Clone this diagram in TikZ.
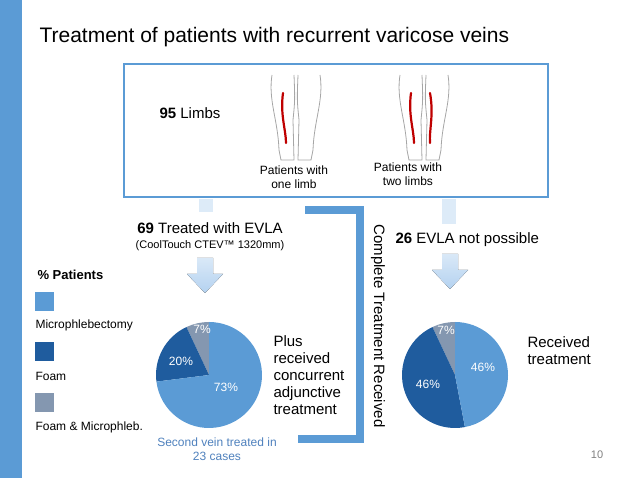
\documentclass[tikz,border=0pt]{standalone}
\usepackage{fontspec}
\setmainfont{Liberation Sans}
\usetikzlibrary{positioning}
\definecolor{lblue}{HTML}{5B9BD5}
\definecolor{dblue}{HTML}{1F5C9E}
\definecolor{grayp}{HTML}{8497B0}
\definecolor{pale}{HTML}{B4D2F0}
\definecolor{capblue}{HTML}{4F81BD}
\tikzset{
  txt/.style={font=\fontsize{15}{17}\selectfont, align=center},
  small/.style={font=\fontsize{12}{14}\selectfont, align=center},
  pct/.style={font=\fontsize{12}{14}\selectfont, text=white},
  legbox/.style={minimum width=19pt, minimum height=19pt, inner sep=0pt, anchor=north west},
  leg/.style={draw=gray!70, line width=0.8pt},
  vein/.style={draw=red!75!black, line width=2.2pt, line cap=round}
}
\newcommand{\downarr}[2]{% x, top y
  \fill[top color=pale!50, bottom color=pale] (#1-8,#2) -- (#1+8,#2) -- (#1+8,#2+16) -- (#1+18,#2+16)
    -- (#1,#2+35) -- (#1-18,#2+16) -- (#1-8,#2+16) -- cycle;}
\begin{document}
\begin{tikzpicture}[x=1pt,y=-1pt]
  \useasboundingbox (0,0) rectangle (638,478);
  \fill[lblue] (0,0) rectangle (22,478);
  \node[anchor=west, font=\fontsize{21}{23}\selectfont] (title) at (36,37) {Treatment of patients with recurrent varicose veins};
  % top box
  \draw[lblue, line width=1.2pt] (124,64) rectangle (548,197);
  \node[anchor=west, txt] (limbs) at (156,113) {\textbf{95} Limbs};
  % legs
  \foreach \cx/\both in {296/0,424/1}{
    \draw[leg] (\cx-24,75) .. controls (\cx-28,100) and (\cx-18,120) .. (\cx-17,150) -- (\cx-15,160) -- (\cx-2,160) -- (\cx-3,120) .. controls (\cx-1,100) .. (\cx-2,75);
    \draw[leg] (\cx+24,75) .. controls (\cx+28,100) and (\cx+18,120) .. (\cx+17,150) -- (\cx+15,160) -- (\cx+2,160) -- (\cx+3,120) .. controls (\cx+1,100) .. (\cx+2,75);
    \draw[vein] (\cx-13,93) .. controls (\cx-16,115) and (\cx-10,130) .. (\cx-10,143);
    \ifnum\both=1 \draw[vein] (\cx+6,93) .. controls (\cx+10,115) and (\cx+5,130) .. (\cx+6,143); \fi
  }
  \node[small] (one) at (294,177) {Patients with\\one limb};
  \node[small] (two) at (408,174) {Patients with\\two limbs};
  % branch labels
  \node[txt] (evla) at (210,237) {\textbf{69} Treated with EVLA\\[-2pt]{\fontsize{11}{13}\selectfont(CoolTouch CTEV™ 1320mm)}};
  \node[anchor=west, txt] (nope) at (392,240) {\textbf{26} EVLA not possible};
  % arrows
  \fill[pale!45] (199,199) rectangle (213,212);
  \fill[pale!45] (442,199) rectangle (456,224);
  \downarr{205}{258}
  \downarr{450}{254}
  % bracket
  \draw[lblue, line width=8pt] (305,210) -- (360,210) -- (360,439) -- (298,439);
  \node[rotate=-90, font=\fontsize{15}{17}\selectfont] (ctr) at (378,326) {Complete Treatment Received};
  % legend
  \node[anchor=west, font=\bfseries\fontsize{13}{15}\selectfont] (lgd) at (34,275) {\% Patients};
  \node[legbox, fill=lblue] (b1) at (35,292) {};
  \node[anchor=west, small] (l1) at (32,325) {Microphlebectomy};
  \node[legbox, fill=dblue] (b2) at (35,342) {};
  \node[anchor=west, small] (l2) at (32,376) {Foam};
  \node[legbox, fill=grayp] (b3) at (35,393) {};
  \node[anchor=west, small] (l3) at (32,427) {Foam \& Microphleb.};
  % left pie
  \begin{scope}[shift={(209,375)}, yscale=-1]
    \fill[grayp] (0,0) -- (90:53) arc[start angle=90, end angle=115.2, radius=53] -- cycle;
    \fill[dblue] (0,0) -- (115.2:53) arc[start angle=115.2, end angle=187.2, radius=53] -- cycle;
    \fill[lblue] (0,0) -- (187.2:53) arc[start angle=187.2, end angle=450, radius=53] -- cycle;
  \end{scope}
  \node[pct] (p1) at (202,329) {7\%};
  \node[pct] (p2) at (181,361) {20\%};
  \node[pct] (p3) at (226,387) {73\%};
  \node[anchor=west, txt, align=left] (plus) at (270,375) {Plus\\received\\concurrent\\adjunctive\\treatment};
  \node[small, text=capblue] (second) at (217,449) {Second vein treated in\\23 cases};
  % right pie
  \begin{scope}[shift={(455,375)}, yscale=-1]
    \fill[grayp] (0,0) -- (90:53) arc[start angle=90, end angle=115.2, radius=53] -- cycle;
    \fill[dblue] (0,0) -- (115.2:53) arc[start angle=115.2, end angle=280.8, radius=53] -- cycle;
    \fill[lblue] (0,0) -- (280.8:53) arc[start angle=280.8, end angle=450, radius=53] -- cycle;
  \end{scope}
  \node[pct] (q1) at (446,330) {7\%};
  \node[pct] (q2) at (483,367) {46\%};
  \node[pct] (q3) at (428,384) {46\%};
  \node[anchor=west, txt, align=left] (recv) at (524,351) {Received\\treatment};
  \node[font=\fontsize{11}{13}\selectfont, text=gray] (page) at (597,455) {10};
\end{tikzpicture}
\end{document}
